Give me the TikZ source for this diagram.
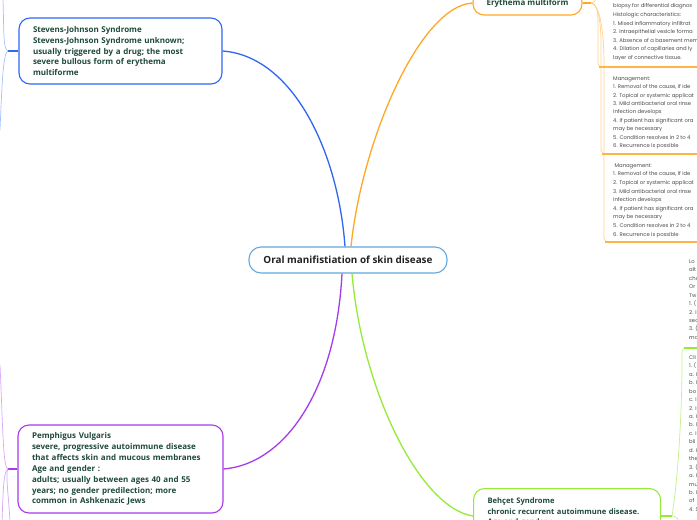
\documentclass[tikz,border=0pt]{standalone}
\usepackage{fontspec}
\usetikzlibrary{calc}
\newfontfamily\topicfont{Open Sans}
\newfontfamily\detailfont{Poppins}
\definecolor{sjblue}{HTML}{2F66F2}
\definecolor{sjlight}{HTML}{A9C1FB}
\definecolor{emorange}{HTML}{FFA726}
\definecolor{emlight}{HTML}{FFD28F}
\definecolor{pvpurple}{HTML}{A63BEB}
\definecolor{pvlight}{HTML}{D7A9F6}
\definecolor{bsgreen}{HTML}{96EA3A}
\definecolor{bslight}{HTML}{CCF5A2}
\definecolor{ctrblue}{HTML}{62A8DD}
\definecolor{topictext}{HTML}{1E4A3A}
\definecolor{ctrtext}{HTML}{222222}
\definecolor{detailgray}{HTML}{4C4C4C}
\tikzset{
  topic/.style={draw, line width=1.1pt, rounded corners=11pt, fill=white,
    font=\topicfont\bfseries\fontsize{8}{10.9}\selectfont, text=topictext,
    align=left, inner xsep=14pt, inner ysep=7pt},
  ctrbox/.style={draw=ctrblue, line width=1.1pt, rounded corners=12pt, fill=white,
    font=\topicfont\bfseries\fontsize{9.9}{11}\selectfont, text=ctrtext,
    minimum width=198pt, minimum height=26pt, inner sep=0pt},
  conn/.style={line width=1.3pt},
  strand/.style={line width=0.7pt},
  uline/.style={line width=1.6pt},
  detail/.style={anchor=west, inner sep=0pt,
    font=\detailfont\fontsize{5.3}{6}\selectfont, text=detailgray,
    text height=3.8pt, text depth=1.2pt}
}
\begin{document}
\begin{tikzpicture}[x=1pt,y=-1pt]
\useasboundingbox (0,0) rectangle (697,520);
\fill[white] (0,0) rectangle (697,520);

% main nodes
\node[ctrbox] (ctr) at (348,260) {Oral manifistiation of skin disease};
\node[topic, draw=sjblue, text width=175pt, minimum height=66pt] (sj) at (120.5,51)
  {Stevens-Johnson Syndrome\\Stevens-Johnson Syndrome unknown;\\usually triggered by a drug; the most\\severe bullous form of erythema\\multiforme};
\node[topic, draw=pvpurple, text width=177pt, minimum height=88pt] (pv) at (120.5,469)
  {Pemphigus Vulgaris\\severe, progressive autoimmune disease\\that affects skin and mucous membranes\\Age and gender :\\adults; usually between ages 40 and 55\\years; no gender predilection; more\\common in Ashkenazic Jews};
\node[topic, draw=emorange, align=center, inner xsep=0pt, inner ysep=0pt,
  minimum width=109pt, minimum height=24pt] (em) at (527.5,3) {Erythema multiform};
\node[topic, draw=bsgreen, text width=159pt, anchor=north west, inner ysep=9.5pt,
  font=\topicfont\bfseries\fontsize{7.6}{10.5}\selectfont] (bs) at (473,488)
  {Behçet Syndrome\\chronic recurrent autoimmune disease.\\Age and gender :};

% main connectors
\draw[conn, sjblue] ([xshift=-3pt]ctr.north) .. controls (338,150) and (292,56) .. (sj.east);
\draw[conn, emorange] ([xshift=3pt]ctr.north) .. controls (362,140) and (420,6) .. (em.west);
\draw[conn, pvpurple] ([xshift=-6pt]ctr.south) .. controls (336,390) and (285,464) .. (pv.east);
\draw[conn, bsgreen] ([xshift=4pt]ctr.south) .. controls (362,390) and (420,508) .. ($(bs.north west)+(0,28)$);

% left hubs
\coordinate (sjhub) at (8,51);
\coordinate (sjup) at (3,-2);
\coordinate (sjdown) at (0,130);
\draw[uline, sjblue] (sj.west) -- (sjhub);
\draw[strand, sjlight] (sjhub) .. controls (3,50) and (4,30) .. (sjup);
\draw[strand, sjlight] (sjhub) .. controls (3,52) and (2,85) .. (sjdown);

\coordinate (pvhub) at (8,469);
\coordinate (pvup) at (0,365);
\coordinate (pvdown) at (2,522);
\coordinate (pvdownb) at (10,522);
\draw[uline, pvpurple] (pv.west) -- (pvhub);
\draw[strand, pvlight] (pvhub) .. controls (3,468) and (3,430) .. (pvup);
\draw[strand, pvlight] (pvhub) .. controls (3,470) and (3,500) .. (pvdown);
\draw[strand, pvlight] (pvhub) .. controls (5,471) and (9,500) .. (pvdownb);

% orange detail branch
\coordinate (emhub) at (591,3);
\coordinate (emup) at (598,-12);
\coordinate (ua) at (697,67);
\coordinate (ub) at (697,154);
\coordinate (uc) at (697,242);
\draw[uline, emorange] (em.east) -- (emhub);
\draw[strand, emlight] (emhub) .. controls (596,3) and (598,-3) .. (emup);
\draw[strand, emlight, rounded corners=4pt] (emhub) .. controls (596,3) and (598,10) .. (598,25) -- (598,67) -- (606,67);
\draw[strand, emlight, rounded corners=4pt] (emhub) .. controls (598,4) and (601,20) .. (601,50) -- (601,154) -- (609,154);
\draw[strand, emlight, rounded corners=4pt] (emhub) .. controls (600,5) and (604,30) .. (604,70) -- (604,242) -- (612,242);
\draw[uline, emorange!85] (599,67) -- (ua);
\draw[uline, emorange!85] (602,154) -- (ub);
\draw[uline, emorange!85] (605,242) -- (uc);

\foreach \t [count=\i from 0] in {{biopsy for differential diagnos},{Histologic characteristics:},{1. Mixed inflammatory infiltrat},{2. Intraepithelial vesicle forma},{3. Absence of a basement mem},{4. Dilation of capillaries and ly},{layer of connective tissue.}}
  \node[detail] (ea\i) at (613,6.5+8.6*\i) {\t};
\foreach \t [count=\i from 0] in {{Management:},{1. Removal of the cause, if ide},{2. Topical or systemic applicat},{3. Mild antibacterial oral rinse},{infection develops},{4. If patient has significant ora},{may be necessary},{5. Condition resolves in 2 to 4},{6. Recurrence is possible}}
  \node[detail] (eb\i) at (613,78.8+8.45*\i) {\t};
\foreach \t [count=\i from 0] in {{\ Management:},{1. Removal of the cause, if ide},{2. Topical or systemic applicat},{3. Mild antibacterial oral rinse},{infection develops},{4. If patient has significant ora},{may be necessary},{5. Condition resolves in 2 to 4},{6. Recurrence is possible}}
  \node[detail] (ec\i) at (613,166+8.6*\i) {\t};

% green detail branch
\coordinate (bshub) at (672,516);
\coordinate (ga) at (697,348);
\coordinate (gdown) at (679,526);
\draw[uline, bsgreen] ($(bs.north east)+(0,28)$) -- (bshub);
\draw[strand, bslight!80!bsgreen, rounded corners=4pt] (bshub) .. controls (678,480) and (682,410) .. (682,360) -- (682,348) -- (690,348);
\draw[strand, bslight!80!bsgreen] (bshub) .. controls (677,516) and (679,519) .. (gdown);
\draw[uline, bsgreen] (684,348) -- (ga);

\foreach \t [count=\i from 0] in {{Lo},{alt},{cha},{Or},{Tw},{1. (},{2. I},{sec},{3. (},{ma}}
  \node[detail] (ga\i) at (689,262+8.45*\i) {\t};
\foreach \t [count=\i from 0] in {{Cli},{1. (},{a. I},{b. I},{bo},{c. I},{2. I},{a. I},{b. I},{c. I},{bli},{d. I},{the},{3. (},{a. I},{mu},{b. I},{of},{4. S}}
  \node[detail] (gb\i) at (689,358+8.45*\i) {\t};
\end{tikzpicture}
\end{document}
